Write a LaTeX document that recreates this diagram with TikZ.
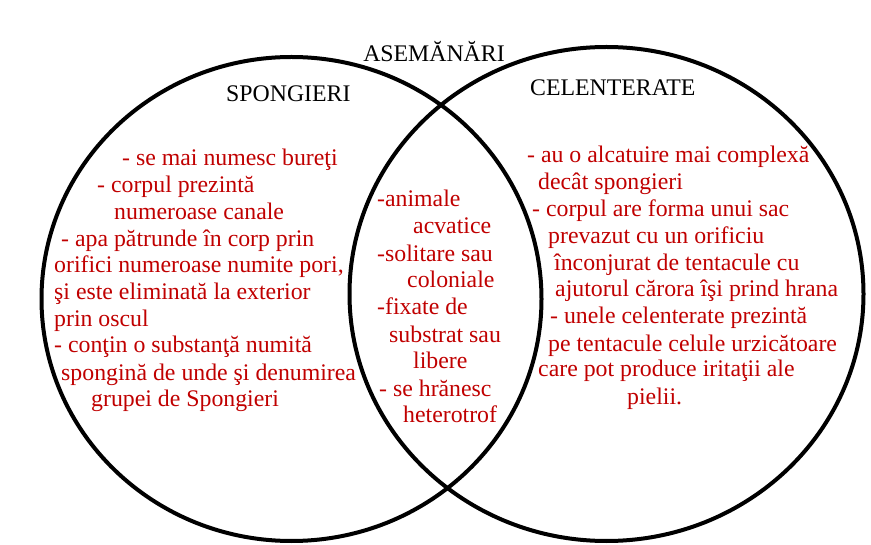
\documentclass[tikz,border=0pt]{standalone}
\usepackage{fontspec}
\setmainfont{Liberation Serif}
\usepackage{tikz}
\definecolor{textred}{RGB}{192,0,0}

\begin{document}
\begin{tikzpicture}[x=1pt, y=-1pt,
    every node/.style={inner sep=0, font=\fontsize{23.8}{27}\selectfont},
    head/.style={anchor=base west},
    txt/.style={anchor=base west, text=textred}]
            \useasboundingbox (0,0) rectangle (871,545);

            % Sets
            \draw[line width=4pt] (291.5,299) ellipse [x radius=250, y radius=242];
            \draw[line width=4pt] (606.5,294) ellipse [x radius=257, y radius=247];

            % Titles
            \node[anchor=base] (asem) at (434,62) {ASEMĂNĂRI};
            \node[head] (spong) at (226,102) {SPONGIERI};
            \node[head] (celen) at (530,96) {CELENTERATE};

            % Spongieri (left)
            \node[txt] (s1) at (122,166) {- se mai numesc bureţi};
            \node[txt] (s2) at (97,193) {- corpul prezintă};
            \node[txt] (s3) at (114,220) {numeroase canale};
            \node[txt] (s4) at (61,247) {- apa pătrunde în corp prin};
            \node[txt] (s5) at (54,273) {orifici numeroase numite pori,};
            \node[txt] (s6) at (54,300) {şi este eliminată la exterior};
            \node[txt] (s7) at (54,327) {prin oscul};
            \node[txt] (s8) at (54,353) {- conţin o substanţă numită};
            \node[txt] (s9) at (61,381) {spongină de unde şi denumirea};
            \node[txt] (s10) at (91,407) {grupei de Spongieri};

            % Asemanari (middle)
            \node[txt] (a1) at (377,207) {-animale};
            \node[txt] (a2) at (413,234) {acvatice};
            \node[txt] (a3) at (377,262) {-solitare sau};
            \node[txt] (a4) at (407,288) {coloniale};
            \node[txt] (a5) at (377,315) {-fixate de};
            \node[txt] (a6) at (389,343) {substrat sau};
            \node[txt] (a7) at (413,369) {libere};
            \node[txt] (a8) at (379,397) {- se hrănesc};
            \node[txt] (a9) at (403,423) {heterotrof};

            % Celenterate (right)
            \node[txt] (c1) at (527,163) {- au o alcatuire mai complexă};
            \node[txt] (c2) at (538,190) {decât spongieri};
            \node[txt] (c3) at (532,217) {- corpul are forma unui sac};
            \node[txt] (c4) at (548,244) {prevazut cu un orificiu};
            \node[txt] (c5) at (554,271) {înconjurat de tentacule cu};
            \node[txt] (c6) at (555,297) {ajutorul cărora îşi prind hrana};
            \node[txt] (c7) at (550,324) {- unele celenterate prezintă};
            \node[txt] (c8) at (548,352) {pe tentacule celule urzicătoare};
            \node[txt] (c9) at (538,377) {care pot produce iritaţii ale};
            \node[txt] (c10) at (627,405) {pielii.};
        \end{tikzpicture}
\end{document}
